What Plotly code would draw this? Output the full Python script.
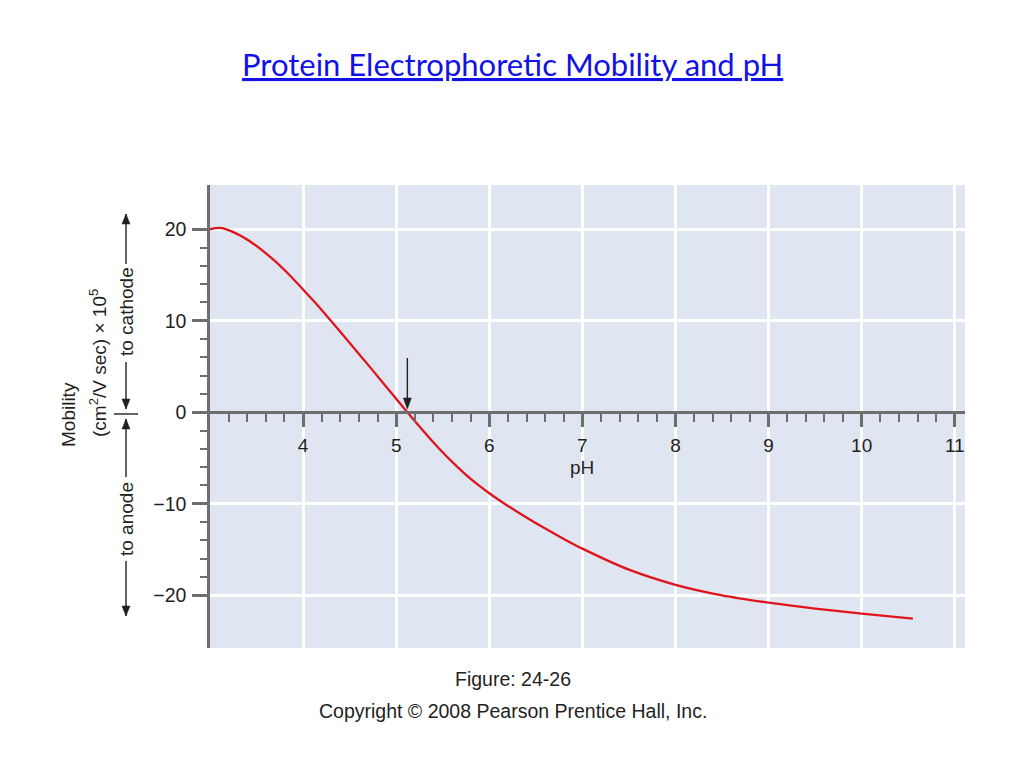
import plotly.graph_objects as go

# ---- data ----
ph = [3.0, 3.11, 3.29, 3.47, 3.65, 3.83, 4.01, 4.19, 4.37, 4.73, 5.12, 5.28, 5.46, 5.64, 5.82,
      6.0, 6.18, 6.36, 6.54, 6.83, 7.0, 7.5, 8.0, 8.5, 9.0, 9.5, 10.0, 10.55]
mobility = [20.0, 20.15, 19.5, 18.4, 16.95, 15.25, 13.3, 11.3, 9.15, 4.8, 0.0, -1.9, -3.95, -5.8, -7.45,
            -8.85, -10.1, -11.25, -12.35, -14.0, -14.9, -17.2, -18.85, -20.0, -20.8, -21.45, -22.0, -22.55]
x_ticks = [4, 5, 6, 7, 8, 9, 10, 11]
x_minor_ticks = [3.2, 3.4, 3.6, 3.8, 4.2, 4.4, 4.6, 4.8, 5.2, 5.4, 5.6, 5.8, 6.2, 6.4, 6.6, 6.8,
                 7.2, 7.4, 7.6, 7.8, 8.2, 8.4, 8.6, 8.8, 9.2, 9.4, 9.6, 9.8, 10.2, 10.4, 10.6, 10.8]
y_ticks = [-20, -10, 0, 10, 20]
y_tick_labels = ["\u221220", "\u221210", "0", "10", "20"]
y_minor_ticks = [-18, -16, -14, -12, -8, -6, -4, -2, 2, 4, 6, 8, 12, 14, 16, 18]
pI = 5.12

title_text = "<u>Protein Electrophoretic Mobility and pH</u>"
figure_text = "Figure: 24-26"
copyright_text = "Copyright \u00a9 2008 Pearson Prentice Hall, Inc."

# ---- layout geometry (pixel positions in the 1024x768 screenshot) ----
OFF = 8                      # page body margin
W, H = 1024 - OFF, 768 - OFF
L, R, T, B = 210, 965, 185, 648
XR = [3.0, 11.11]
YR = [-25.76, 24.84]

def px(xp):
    return (xp - L) / (R - L)

def py(yp):
    return (B - yp) / (B - T)

bg = "#dfe6f1"
axis_col = "#6e6e6e"
txt_col = "#231f20"
font_main = "Liberation Sans, Arial, sans-serif"

fig = go.Figure()
fig.add_trace(go.Scatter(
    x=ph, y=mobility, mode="lines",
    line=dict(color="#e0141c", width=2.3, shape="spline", smoothing=0.8),
    hoverinfo="skip", showlegend=False,
))

zero_pos = (0 - YR[0]) / (YR[1] - YR[0])

fig.update_layout(
    width=W, height=H,
    margin=dict(l=L - OFF, r=1024 - R, t=T - OFF, b=768 - B),
    paper_bgcolor="white", plot_bgcolor=bg,
    showlegend=False,
    font=dict(family=font_main, color=txt_col, size=18),
    xaxis=dict(
        range=XR, anchor="free", position=zero_pos,
        tickmode="array", tickvals=x_ticks, ticktext=[str(v) for v in x_ticks],
        showgrid=True, gridcolor="white", gridwidth=2.5,
        showline=True, linecolor=axis_col, linewidth=2.5,
        ticks="outside", ticklen=13, tickwidth=2.5, tickcolor=axis_col,
        ticklabelstandoff=2,
        minor=dict(tickmode="array", tickvals=x_minor_ticks, ticks="outside", ticklen=8,
                   tickwidth=2, tickcolor=axis_col, showgrid=False),
        zeroline=False, tickfont=dict(size=19, color=txt_col),
    ),
    yaxis=dict(
        range=YR, domain=[0, 1],
        tickmode="array", tickvals=y_ticks, ticktext=y_tick_labels,
        showgrid=True, gridcolor="white", gridwidth=2.5,
        showline=True, linecolor=axis_col, linewidth=2.5,
        ticks="outside", ticklen=15, tickwidth=2.5, tickcolor=axis_col,
        ticklabelstandoff=2,
        minor=dict(tickmode="array", tickvals=y_minor_ticks, ticks="outside", ticklen=7,
                   tickwidth=2, tickcolor=axis_col, showgrid=False),
        zeroline=False, tickfont=dict(size=19.5, color=txt_col),
    ),
)

ann = []
ann.append(dict(text=title_text, x=px(512), xref="paper", xanchor="center",
                y=py(64), yref="paper", yanchor="middle", showarrow=False,
                font=dict(family="Lato, sans-serif", size=31, color="#1212e6")))
ann.append(dict(text="pH", x=7.0, xref="x", xanchor="center", y=py(468), yref="paper",
                yanchor="middle", showarrow=False, font=dict(size=19, color=txt_col)))
ann.append(dict(text=figure_text, x=px(513), xref="paper", xanchor="center",
                y=py(679), yref="paper", yanchor="middle", showarrow=False,
                font=dict(size=19.5, color=txt_col)))
ann.append(dict(text=copyright_text, x=px(513), xref="paper", xanchor="center",
                y=py(711), yref="paper", yanchor="middle", showarrow=False,
                font=dict(size=19.5, color=txt_col)))
rot = [("Mobility", 68, 415),
       ("(cm<sup>2</sup>/V sec) \u00d7 10<sup>5</sup>", 98, 363),
       ("to cathode", 126, 312),
       ("to anode", 126, 519)]
for t, xx, yy in rot:
    ann.append(dict(text=t, x=px(xx), xref="paper", xanchor="center",
                    y=py(yy), yref="paper", yanchor="middle", textangle=-90,
                    showarrow=False, font=dict(size=19, color=txt_col)))
fig.update_layout(annotations=ann)

line_style = dict(color=txt_col, width=1.4)
# left direction arrows: (tip, tail) in pixels
ax_px = 126
for tip, tail in [(214, 264), (409, 362), (419, 477), (616, 561)]:
    fig.add_shape(type="line", xref="paper", yref="paper",
                  x0=px(ax_px), x1=px(ax_px), y0=py(tip), y1=py(tail), line=line_style)
    d = 1 if tail > tip else -1
    path = "M {:.5f},{:.5f} L {:.5f},{:.5f} L {:.5f},{:.5f} Z".format(
        px(ax_px), py(tip), px(ax_px - 4), py(tip + 10 * d), px(ax_px + 4), py(tip + 10 * d))
    fig.add_shape(type="path", xref="paper", yref="paper", path=path,
                  fillcolor=txt_col, line=dict(color=txt_col, width=0.5))
fig.add_shape(type="line", xref="paper", yref="paper",
              x0=px(114), x1=px(138), y0=py(414), y1=py(414), line=line_style)

# isoelectric point arrow
pI_px = L + (pI - XR[0]) / (XR[1] - XR[0]) * (R - L)
fig.add_shape(type="line", xref="paper", yref="paper",
              x0=px(pI_px), x1=px(pI_px), y0=py(358), y1=py(400), line=line_style)
fig.add_shape(type="path", xref="paper", yref="paper",
              path="M {:.5f},{:.5f} L {:.5f},{:.5f} L {:.5f},{:.5f} Z".format(
                  px(pI_px), py(409), px(pI_px - 4), py(398), px(pI_px + 4), py(398)),
              fillcolor=txt_col, line=dict(color=txt_col, width=0.5))

fig.write_html("out.html")
